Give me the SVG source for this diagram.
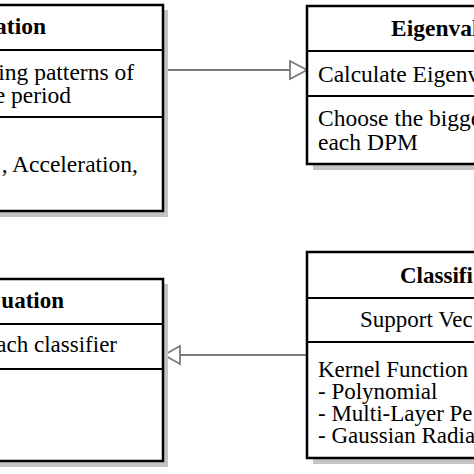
<svg xmlns="http://www.w3.org/2000/svg" width="474" height="474" viewBox="0 0 474 474">
<style>
.shadow{fill:#c4c4c4;stroke:none}
.box{fill:#fff;stroke:#000;stroke-width:2.5}
.div{stroke:#000;stroke-width:2.2;fill:none}
text{font-family:"Liberation Serif","Times New Roman",serif;font-size:23.5px;fill:#000}
.s{font-size:23px}
.h{font-weight:bold}
.conn{stroke:#7a7a7a;stroke-width:1.8;fill:none}
.tri{stroke:#7a7a7a;stroke-width:1.8;fill:#fff}
</style>
<rect width="474" height="474" fill="#fff"/>
<g id="conn">
<line class="conn" x1="166" y1="70" x2="290" y2="70"/>
<polygon class="tri" points="290,61 307,70 290,79"/>
<line class="conn" x1="307" y1="355" x2="180" y2="355"/>
<polygon class="tri" points="180,346 164,355 180,364"/>
</g>
<g id="node-tl">
<rect class="shadow" x="-20" y="10" width="188" height="207"/>
<rect class="box" x="-30" y="5" width="193" height="206"/>
<line class="div" x1="-30" y1="50" x2="163" y2="50"/>
<line class="div" x1="-30" y1="117" x2="163" y2="117"/>
<text class="h" x="46" y="34" text-anchor="end">ation</text>
<text x="134" y="80" text-anchor="end">ing patterns of</text>
<text x="71" y="103" text-anchor="end">e period</text>
<text x="138" y="172" text-anchor="end">, Acceleration,</text>
</g>
<g id="node-tr">
<rect class="shadow" x="313" y="11" width="200" height="159"/>
<rect class="box" x="307" y="6" width="200" height="158"/>
<line class="div" x1="307" y1="51" x2="507" y2="51"/>
<line class="div" x1="307" y1="96" x2="507" y2="96"/>
<text class="h" x="391" y="36">Eigenval</text>
<text x="318" y="82">Calculate Eigenv</text>
<text x="318" y="126">Choose the bigge</text>
<text x="318" y="150">each DPM</text>
</g>
<g id="node-bl">
<rect class="shadow" x="-20" y="284" width="188" height="183"/>
<rect class="box" x="-30" y="279" width="193" height="182"/>
<line class="div" x1="-30" y1="324" x2="163" y2="324"/>
<line class="div" x1="-30" y1="369" x2="163" y2="369"/>
<text class="h s" x="64" y="308" text-anchor="end">uation</text>
<text class="s" x="117" y="352" text-anchor="end">ach classifier</text>
</g>
<g id="node-br">
<rect class="shadow" x="313" y="257" width="200" height="207"/>
<rect class="box" x="307" y="252" width="200" height="206"/>
<line class="div" x1="307" y1="298" x2="507" y2="298"/>
<line class="div" x1="307" y1="342" x2="507" y2="342"/>
<text class="h s" x="400" y="283">Classifi</text>
<text class="s" x="360" y="327">Support Vec</text>
<text class="s" x="318" y="377">Kernel Function</text>
<text class="s" x="318" y="399">- Polynomial</text>
<text class="s" x="318" y="421">- Multi-Layer Pe</text>
<text class="s" x="318" y="443">- Gaussian Radia</text>
</g>
</svg>
